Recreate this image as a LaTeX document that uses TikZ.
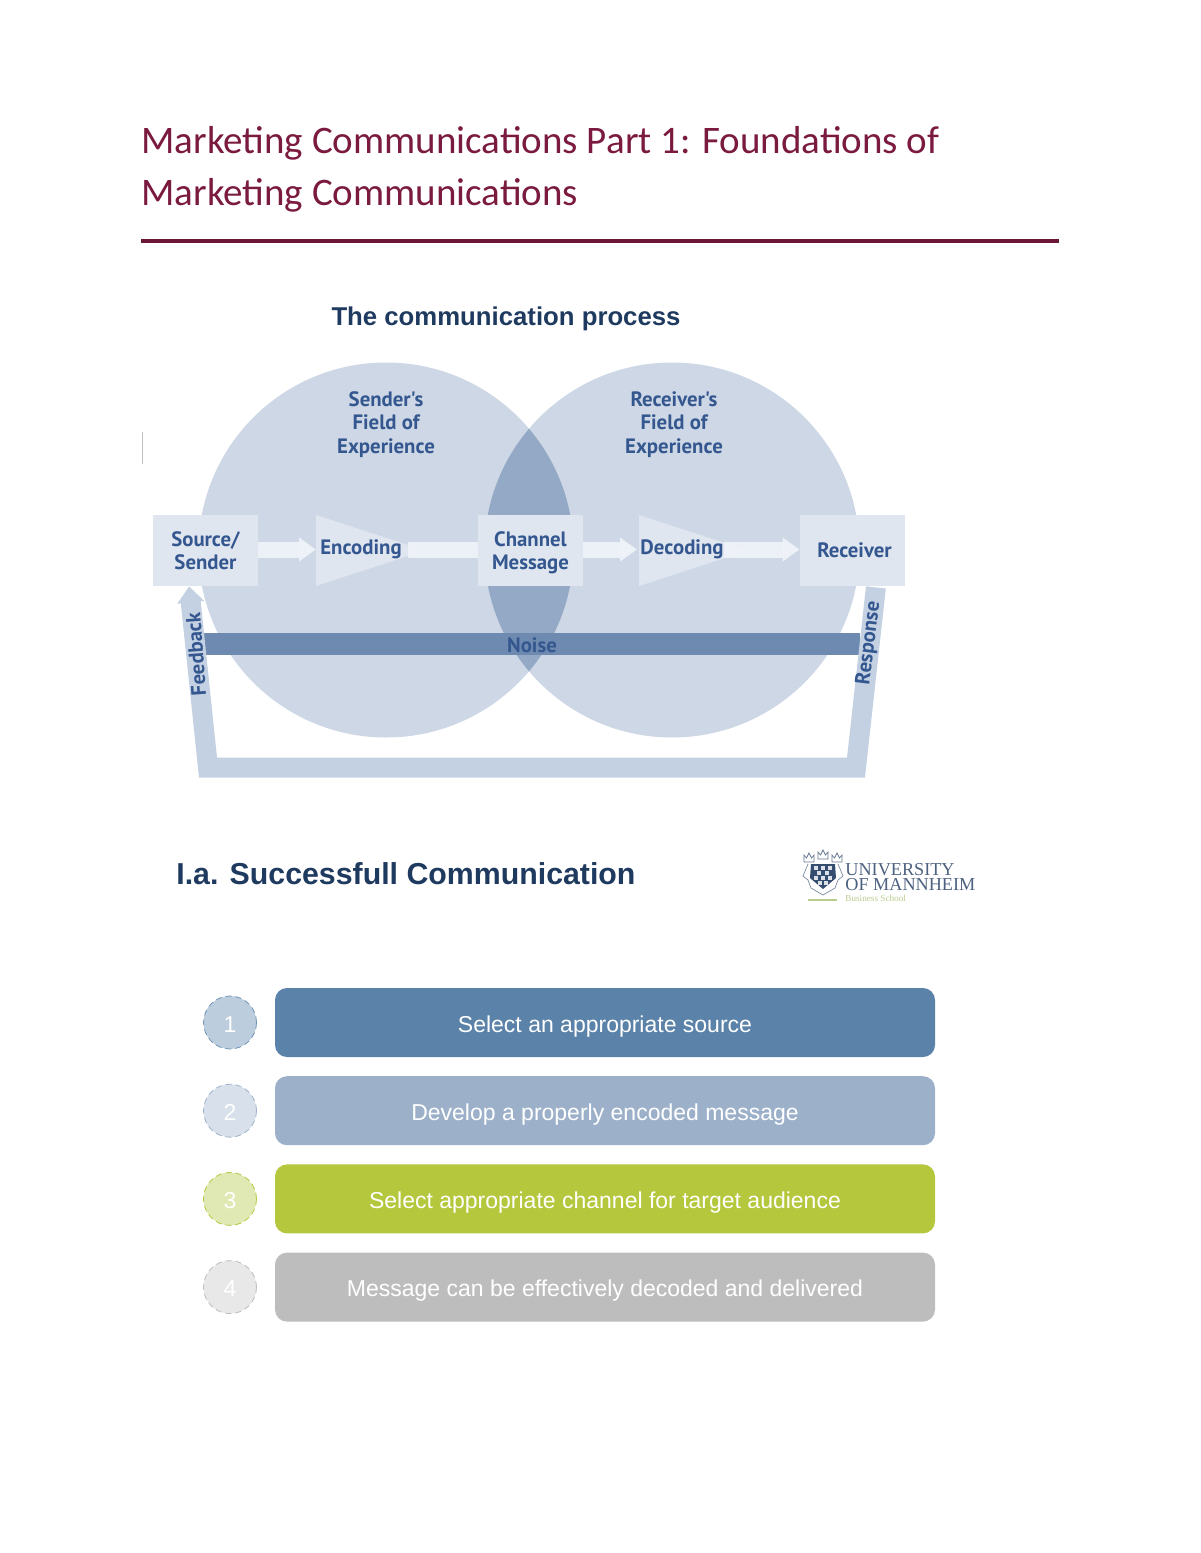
\documentclass[tikz,border=0pt]{standalone}
\usepackage{fontspec}
\setmainfont{Carlito}
\newfontfamily\arialfont{Liberation Sans}
\newfontfamily\figfont{PT Sans}
\newfontfamily\logofont{Liberation Serif}
\usepackage{tikz}
\usetikzlibrary{shapes.geometric, arrows.meta}
\definecolor{titlered}{HTML}{7A1A3F}
\definecolor{rulered}{HTML}{6B1738}
\definecolor{navy}{HTML}{1F3A5F}
\definecolor{figblue}{HTML}{34578F}
\definecolor{fieldblue}{HTML}{CDD7E5}
\definecolor{lensblue}{HTML}{94A9C6}
\definecolor{noiseblue}{HTML}{6F8AB0}
\definecolor{boxblue}{HTML}{E0E6F0}
\definecolor{flowblue}{HTML}{F0F3F9}
\definecolor{loopblue}{HTML}{C4D1E2}
\definecolor{logogreen}{HTML}{B9CC8E}
\tikzstyle{figtext} =
	[
		font = \figfont\bfseries\fontsize{10.4}{11.75}\selectfont,
		text = figblue,
		align = center,
		inner sep = 0pt
	]
\tikzstyle{stagebox} =
	[
		rectangle,
		fill = boxblue,
		figtext,
		minimum width = 52.5pt,
		minimum height = 35.5pt
	]
\tikzstyle{wedge} =
	[
		isosceles triangle,
		isosceles triangle stretches,
		fill = boxblue,
		minimum width = 35.5pt,
		minimum height = 54.5pt,
		inner sep = 0pt,
		outer sep = 0pt,
		anchor = lower side
	]
\tikzstyle{flow} =
	[
		draw = flowblue,
		line width = 8pt,
		opacity = 0.9,
		-{Triangle[width = 11.5pt, length = 8.5pt]}
	]
\tikzstyle{flowplain} =
	[
		draw = flowblue,
		line width = 8pt,
		opacity = 0.9
	]
\tikzstyle{loopline} =
	[
		draw = loopblue,
		line width = 10pt,
		miter limit = 20
	]
\tikzstyle{stepbar} =
	[
		rectangle,
		rounded corners = 6pt,
		minimum width = 330pt,
		minimum height = 34.5pt,
		text height = 9.5pt,
		text depth = 0pt,
		text = white,
		font = \arialfont\fontsize{11.5}{14}\selectfont
	]
\tikzstyle{stepdot} =
	[
		circle,
		draw,
		densely dashed,
		line width = 0.4pt,
		minimum size = 26.5pt,
		inner sep = 0pt,
		text height = 9.5pt,
		text depth = 0pt,
		text = white,
		font = \arialfont\fontsize{11.5}{14}\selectfont
	]
\tikzstyle{logotext} =
	[
		anchor = base west,
		inner sep = 0pt,
		text height = 6pt,
		text depth = 0pt,
		text = navy!80,
		font = \logofont\fontsize{9.1}{9}\selectfont
	]
\begin{document}
\begin{tikzpicture}[x = 0.5pt, y = -0.5pt, node distance = 44.1pt]
	\useasboundingbox (0,0) rectangle (1200,1553);
	\node [anchor = base west, inner sep = 0pt, text = titlered, font = \fontsize{19.5}{26}\selectfont] (title1) at (141,153) {Marketing Communications Part 1: Foundations of};
	\node [anchor = base west, inner sep = 0pt, text = titlered, font = \fontsize{19.5}{26}\selectfont] (title2) at (141,205) {Marketing Communications};
	\fill [rulered] (141,238.5) rectangle (1059,242.5);
	\fill [black!25] (141.5,432) rectangle (142.8,464);
	\node [anchor = base, inner sep = 0pt, text = navy, font = \arialfont\bfseries\fontsize{12.87}{15}\selectfont] (process) at (506,325) {The communication process};

	\fill [fieldblue] (386,550) circle (187.5);
	\fill [fieldblue] (672,550) circle (187.5);
	\begin{scope}
		\clip (386,550) circle (187.5);
		\fill [lensblue] (672,550) circle (187.5);
	\end{scope}
	\fill [noiseblue] (203,633) rectangle (860,655);
	\node [figtext, text = figblue] (noise) at (532,645) {Noise};
	\node [figtext] (fieldsender) at (386,424.5) {Sender's\\Field of\\Experience};
	\node [figtext] (fieldreceiver) at (674,424.5) {Receiver's\\Field of\\Experience};

	\node [stagebox] (source) at (205.5,550.5) {Source/\\Sender};
	\node [stagebox, right of = source, node distance = 162.5pt] (channel) {Channel\\Messa\smash{g}e};
	\node [stagebox, right of = channel, node distance = 161pt] (receiver) {\hspace*{2pt}Receiver};
	\node [wedge] (encodewedge) at (316,550.5) {};
	\node [wedge] (decodewedge) at (639,550.5) {};
	\node [figtext] (encoding) at (361,549.5) {Encoding};
	\node [figtext] (decoding) at (682,549.5) {Decoding};

	\coordinate (loopright) at (856,767.5);
	\coordinate (loopleft) at (208,767.5);
	\path [flow] ([yshift = 0.5pt]source.east) -- ([yshift = 0.5pt]encodewedge.lower side);
	\path [flowplain] ([xshift = -8.5pt, yshift = 0.5pt]encodewedge.apex) -- ([yshift = 0.5pt]channel.west);
	\path [flow] ([yshift = 0.5pt]channel.east) -- ([xshift = -1pt, yshift = 0.5pt]decodewedge.lower side);
	\path [flow] ([xshift = -12pt, yshift = 0.5pt]decodewedge.apex) -- ([yshift = 0.5pt]receiver.west);
	\path [loopline, -{Triangle[width = 13pt, length = 8pt]}] ([xshift = 11.7pt, yshift = -0.5pt]receiver.south) -- (loopright) -- (loopleft) -- ([xshift = -8.2pt]source.south);
	\node [figtext, rotate = 94] (feedback) at (196,654) {Feedback};
	\node [figtext, rotate = 83] (response) at (869,643) {Response};

	\begin{scope}[shift = {(823,876)}]
		\fill [navy!90] (-12,-12) -- (12,-12) -- (13,2) -- (0,13) -- (-13,2) -- cycle;
		\foreach \dotx/\doty in {-7/-8, 0/-8, 7/-8, -4/-3, 4/-3, -7/2, 0/2, 7/2, -3/7, 3/7}
			\fill [white!85!navy] (\dotx-1.8,\doty-1.8) rectangle (\dotx+1.8,\doty+1.8);
		\draw [navy!60, line width = 0.35pt] (-15,-12) -- (-20,0) -- (-15,4) -- (-12,12) -- (0,19) -- (12,12) -- (15,4) -- (20,0) -- (15,-12);
		\foreach \crownx/\crowny in {-14/-14, 0/-17, 14/-14}
			\draw [navy!70, line width = 0.35pt] (\crownx-5,\crowny) -- (\crownx-5,\crowny-7) -- (\crownx-2.5,\crowny-4) -- (\crownx,\crowny-9) -- (\crownx+2.5,\crowny-4) -- (\crownx+5,\crowny-7) -- (\crownx+5,\crowny) -- cycle;
	\end{scope}
	\node [logotext] (logo1) at (845,875.5) {UNIVERSITY};
	\node [logotext] (logo2) at (845,890.5) {OF MANNHEIM};
	\node [anchor = base west, inner sep = 0pt, text = logogreen, font = \logofont\fontsize{4.6}{5}\selectfont] (logo3) at (845,901) {Business School};
	\fill [logogreen] (808,898.5) rectangle (837,900.5);

	\node [anchor = base west, inner sep = 0pt, text = navy, font = \arialfont\bfseries\fontsize{15.15}{18}\selectfont] (section) at (176,884) {I.a. Successfull Communication};

	\node [stepbar, fill = {rgb,255:red,91;green,130;blue,168}] (bar1) at (605,1022.5) {Select an appropriate source};
	\node [stepbar, fill = {rgb,255:red,156;green,177;blue,201}, below of = bar1] (bar2) {Develop a properly encoded message};
	\node [stepbar, fill = {rgb,255:red,181;green,199;blue,61}, below of = bar2] (bar3) {Select appropriate channel for target audience};
	\node [stepbar, fill = {rgb,255:red,189;green,189;blue,189}, below of = bar3] (bar4) {Message can be effectively decoded and delivered};
	\node [stepdot, fill = {rgb,255:red,188;green,205;blue,222}, draw = {rgb,255:red,111;green,147;blue,181}, left of = bar1, node distance = 187.5pt] (dot1) {1};
	\node [stepdot, fill = {rgb,255:red,216;green,225;blue,235}, draw = {rgb,255:red,156;green,177;blue,201}, left of = bar2, node distance = 187.5pt] (dot2) {2};
	\node [stepdot, fill = {rgb,255:red,224;green,233;blue,180}, draw = {rgb,255:red,181;green,199;blue,61}, left of = bar3, node distance = 187.5pt] (dot3) {3};
	\node [stepdot, fill = {rgb,255:red,232;green,232;blue,232}, draw = {rgb,255:red,189;green,189;blue,189}, left of = bar4, node distance = 187.5pt] (dot4) {4};
\end{tikzpicture}
\end{document}
